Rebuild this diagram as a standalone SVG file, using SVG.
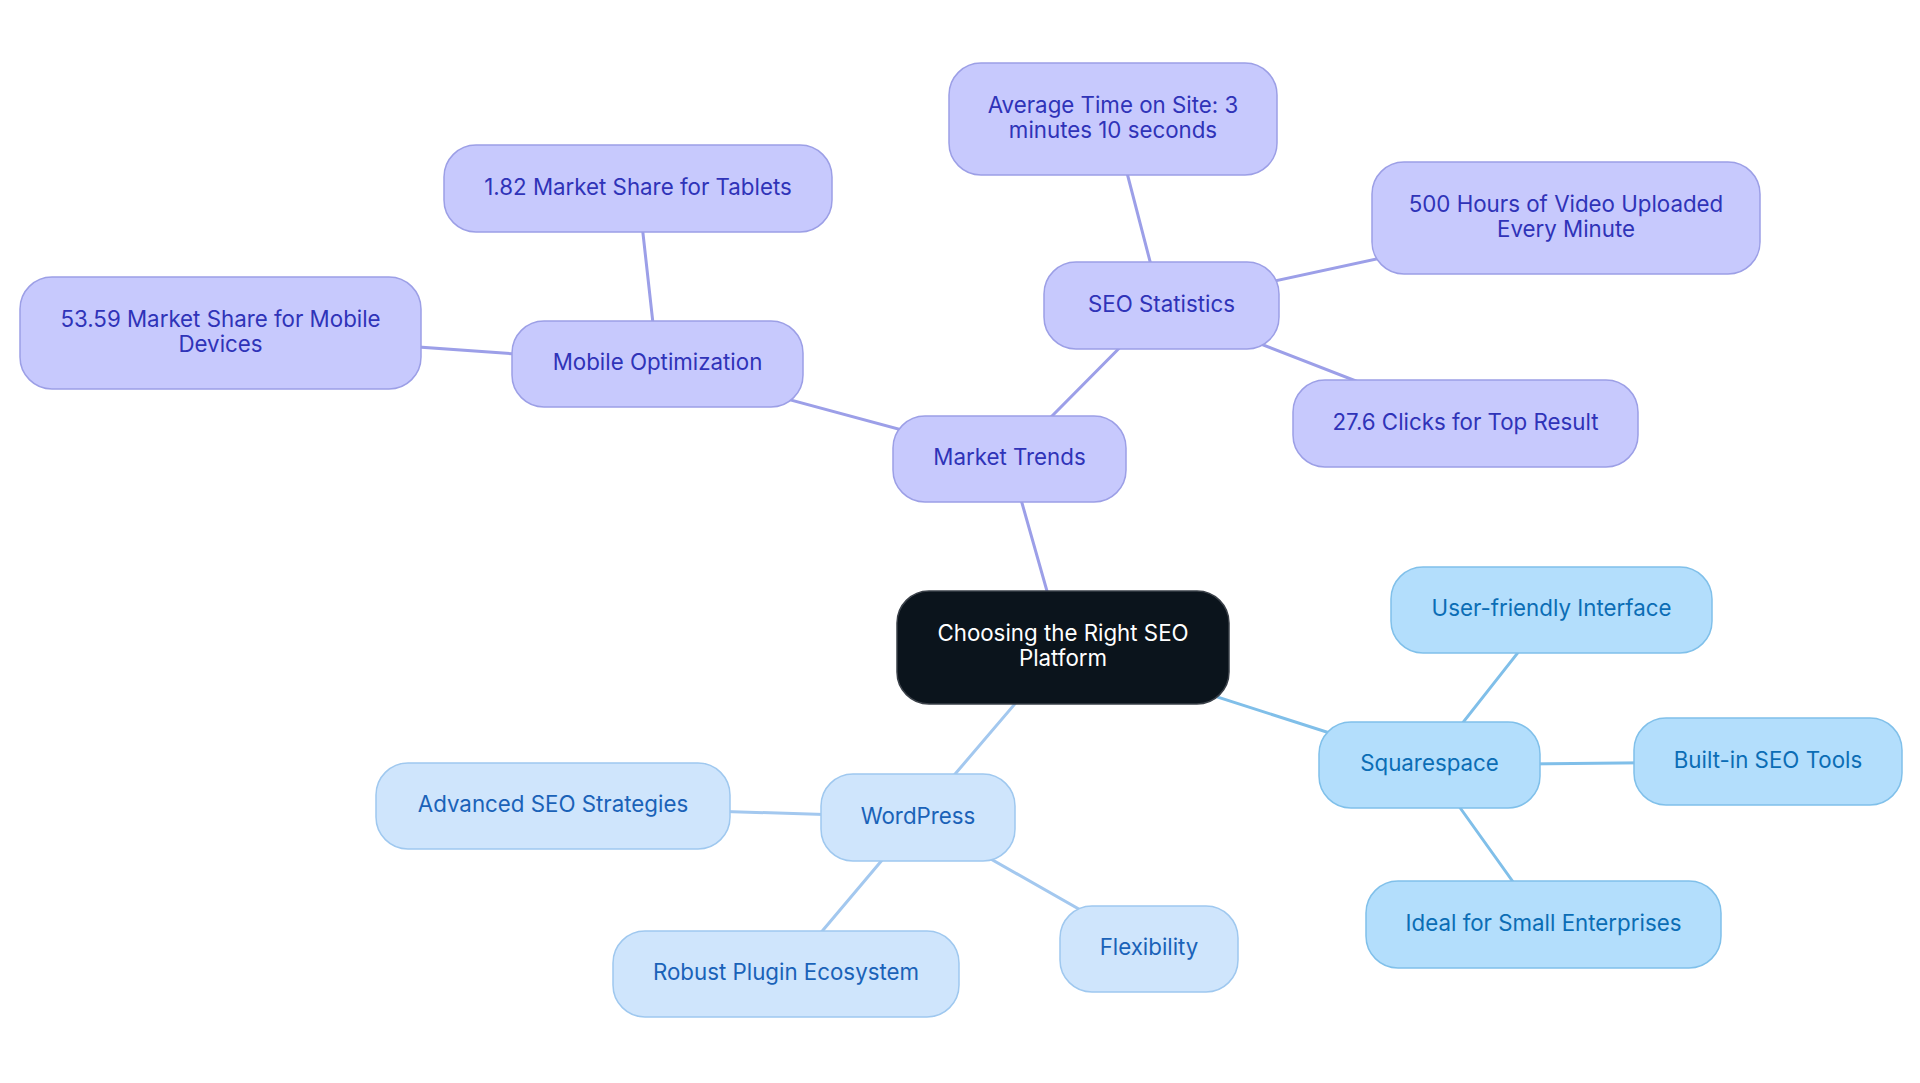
<svg xmlns="http://www.w3.org/2000/svg" width="1920" height="1083" viewBox="0 0 1920 1083">
<style>
.n rect{stroke-width:1.5}
.p rect{fill:#c7c9fd;stroke:#9c9fe6}
.p text{fill:#2f33b8}
.s rect{fill:#b3defc;stroke:#80c0ea}
.s text{fill:#0b6db5}
.w rect{fill:#cfe5fc;stroke:#9fc8ef}
.w text{fill:#1a62b8}
.c rect{fill:#0b141c;stroke:#3a4048}
.c text{fill:#ffffff}
text{font-family:Inter,"Noto Sans","Liberation Sans",sans-serif;font-size:22.3px;text-anchor:middle}
.e line{stroke-width:3;stroke-linecap:round}
.ep{stroke:#9c9fe8}
.es{stroke:#80bfe9}
.ew{stroke:#a3c8ef}
</style>
<rect width="1920" height="1083" fill="#ffffff"/>
<g id="connectors" class="e">
<line class="ep" x1="1063" y1="647.5" x2="1009.5" y2="459"/>
<line class="ep" x1="1009.5" y1="459" x2="657.5" y2="364"/>
<line class="ep" x1="657.5" y1="364" x2="638" y2="188.5"/>
<line class="ep" x1="657.5" y1="364" x2="220.5" y2="333"/>
<line class="ep" x1="1009.5" y1="459" x2="1161.5" y2="305.5"/>
<line class="ep" x1="1161.5" y1="305.5" x2="1113" y2="119"/>
<line class="ep" x1="1161.5" y1="305.5" x2="1566" y2="218"/>
<line class="ep" x1="1161.5" y1="305.5" x2="1465.5" y2="423.5"/>
<line class="es" x1="1063" y1="647.5" x2="1429.5" y2="765"/>
<line class="es" x1="1429.5" y1="765" x2="1551.5" y2="610"/>
<line class="es" x1="1429.5" y1="765" x2="1768" y2="761.5"/>
<line class="es" x1="1429.5" y1="765" x2="1543.5" y2="924.5"/>
<line class="ew" x1="1063" y1="647.5" x2="918" y2="817.5"/>
<line class="ew" x1="918" y1="817.5" x2="553" y2="806"/>
<line class="ew" x1="918" y1="817.5" x2="786" y2="974"/>
<line class="ew" x1="918" y1="817.5" x2="1149" y2="949"/>
</g>
<g id="root" class="n c"><rect x="897" y="591" width="332" height="113" rx="32"/><text x="1063" y="641">Choosing the Right SEO</text><text x="1063" y="666">Platform</text></g>
<g id="market-trends" class="n p"><rect x="893" y="416" width="233" height="86" rx="32"/><text x="1009.5" y="465">Market Trends</text></g>
<g id="mobile-optimization" class="n p"><rect x="512" y="321" width="291" height="86" rx="32"/><text x="657.5" y="370">Mobile Optimization</text></g>
<g id="tablets" class="n p"><rect x="444" y="145" width="388" height="87" rx="32"/><text x="638" y="195">1.82 Market Share for Tablets</text></g>
<g id="mobile-devices" class="n p"><rect x="20" y="277" width="401" height="112" rx="32"/><text x="220.5" y="326.5">53.59 Market Share for Mobile</text><text x="220.5" y="351.5">Devices</text></g>
<g id="seo-statistics" class="n p"><rect x="1044" y="262" width="235" height="87" rx="32"/><text x="1161.5" y="312">SEO Statistics</text></g>
<g id="average-time" class="n p"><rect x="949" y="63" width="328" height="112" rx="32"/><text x="1113" y="112.5">Average Time on Site: 3</text><text x="1113" y="137.5">minutes 10 seconds</text></g>
<g id="video-hours" class="n p"><rect x="1372" y="162" width="388" height="112" rx="32"/><text x="1566" y="211.5">500 Hours of Video Uploaded</text><text x="1566" y="236.5">Every Minute</text></g>
<g id="clicks" class="n p"><rect x="1293" y="380" width="345" height="87" rx="32"/><text x="1465.5" y="430">27.6 Clicks for Top Result</text></g>
<g id="squarespace" class="n s"><rect x="1319" y="722" width="221" height="86" rx="32"/><text x="1429.5" y="771">Squarespace</text></g>
<g id="user-friendly" class="n s"><rect x="1391" y="567" width="321" height="86" rx="32"/><text x="1551.5" y="616">User-friendly Interface</text></g>
<g id="built-in-seo" class="n s"><rect x="1634" y="718" width="268" height="87" rx="32"/><text x="1768" y="768">Built-in SEO Tools</text></g>
<g id="small-enterprises" class="n s"><rect x="1366" y="881" width="355" height="87" rx="32"/><text x="1543.5" y="931">Ideal for Small Enterprises</text></g>
<g id="wordpress" class="n w"><rect x="821" y="774" width="194" height="87" rx="32"/><text x="918" y="824">WordPress</text></g>
<g id="advanced-seo" class="n w"><rect x="376" y="763" width="354" height="86" rx="32"/><text x="553" y="812">Advanced SEO Strategies</text></g>
<g id="plugin-ecosystem" class="n w"><rect x="613" y="931" width="346" height="86" rx="32"/><text x="786" y="980">Robust Plugin Ecosystem</text></g>
<g id="flexibility" class="n w"><rect x="1060" y="906" width="178" height="86" rx="32"/><text x="1149" y="955">Flexibility</text></g>
</svg>
